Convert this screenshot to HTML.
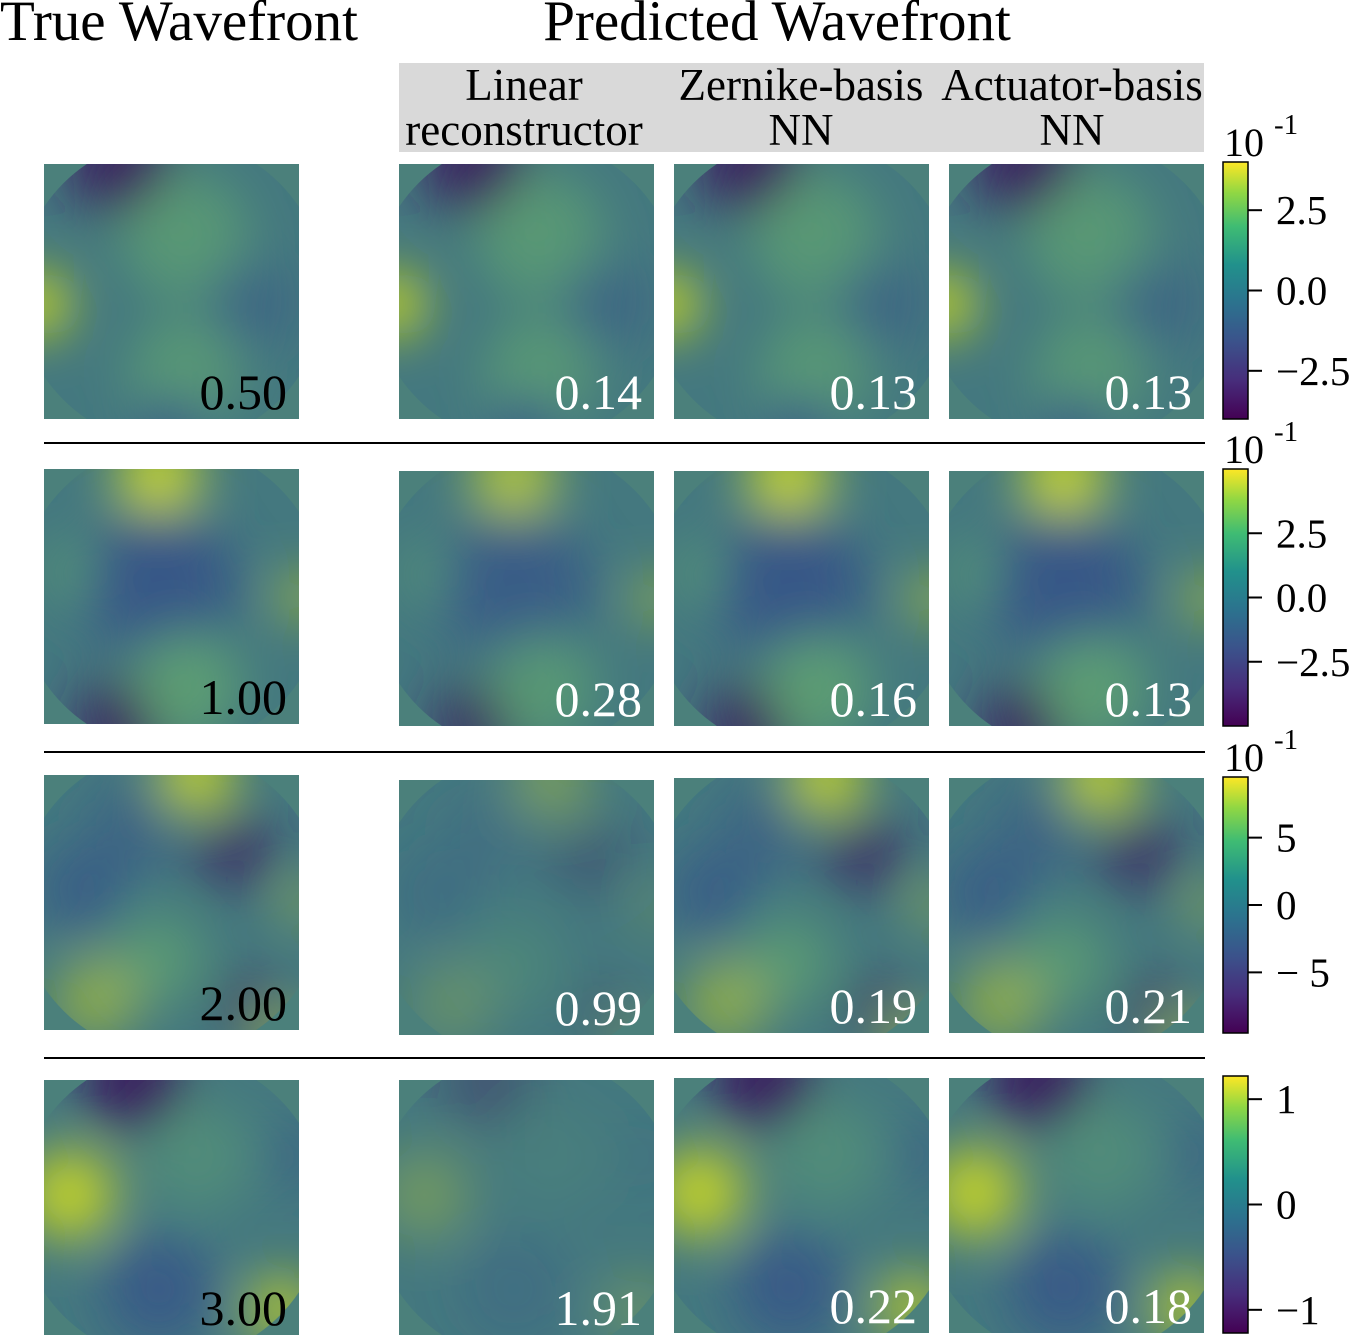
<!DOCTYPE html>
<html><head><meta charset="utf-8"><style>
body{margin:0;background:#fff;}
svg{display:block;font-family:"Liberation Serif",serif;}
</style></head><body>
<svg id="fig" width="1350" height="1335" viewBox="0 0 1350 1335" xmlns="http://www.w3.org/2000/svg">
<defs>
<linearGradient id="viridis" x1="0" y1="1" x2="0" y2="0">
<stop offset="0" stop-color="#440154"/><stop offset="0.15" stop-color="#472d7b"/><stop offset="0.3" stop-color="#3b528b"/><stop offset="0.45" stop-color="#2c728e"/><stop offset="0.6" stop-color="#21918c"/><stop offset="0.75" stop-color="#3fbc73"/><stop offset="0.88" stop-color="#90d743"/><stop offset="1" stop-color="#fde725"/>
</linearGradient>
<filter id="blur" x="-50%" y="-50%" width="200%" height="200%"><feGaussianBlur stdDeviation="26"/></filter>
</defs>
<text x="0" y="40" font-size="57">True Wavefront</text>
<text x="777" y="40" font-size="57" text-anchor="middle">Predicted Wavefront</text>
<rect x="399" y="63" width="805" height="89" fill="#d9d9d9"/>
<text font-size="45" text-anchor="middle"><tspan x="524" y="100">Linear</tspan><tspan x="524" y="145">reconstructor</tspan></text>
<text font-size="45" text-anchor="middle"><tspan x="801" y="100">Zernike-basis</tspan><tspan x="801" y="145">NN</tspan></text>
<text font-size="45" text-anchor="middle"><tspan x="1072" y="100">Actuator-basis</tspan><tspan x="1072" y="145">NN</tspan></text>
<g id="panels"></g>
<g id="cbars"></g>
</svg>
<script>
// data
const rowErrors = [
  ["0.50","0.14","0.13","0.13"],
  ["1.00","0.28","0.16","0.13"],
  ["2.00","0.99","0.19","0.21"],
  ["3.00","1.91","0.22","0.18"]
];
const cbTickValues = [[2.5,0,-2.5],[2.5,0,-2.5],[5,0,-5],[1,0,-1]];
const cbTickLabels = [["2.5","0.0","\u22122.5"],["2.5","0.0","\u22122.5"],["5","0","\u2212 5"],["1","0","\u22121"]];
const cbRanges = [[-4,4],[-5,5],[-9.5,9.5],[-1.22,1.22]];
const cbExponent = ["10 -1","10 -1","10 -1",""];
// blobs: [x, y, r, color, opacity] in panel fractions
const Y="#d8e219",G="#6cb86c",B="#34508a",P="#3a1c5e";
const blobsRow = [
 [[0.3,0.0,0.2,P,1],[-0.03,0.55,0.12,Y,1],[0.55,0.28,0.25,G,0.5],[0.8,0.55,0.18,B,0.45],[0.55,0.82,0.22,G,0.5],[0.5,1.02,0.12,B,0.9]],
 [[0.45,0.03,0.16,Y,0.9],[0.45,0.45,0.3,B,0.8],[1.02,0.5,0.08,Y,0.9],[0.3,1.0,0.17,P,1],[0.55,0.85,0.22,G,0.6],[0.1,0.4,0.12,G,0.4]],
 [[0.6,0.0,0.14,Y,0.9],[0.75,0.3,0.16,P,0.7],[0.15,0.45,0.18,B,0.6],[1.02,0.5,0.06,Y,0.95],[0.45,0.72,0.18,G,0.5],[0.2,0.88,0.16,Y,0.5],[0.8,0.9,0.13,P,0.6],[0.92,1.0,0.08,Y,0.7],[0.35,0.2,0.18,B,0.45]],
 [[0.35,0.0,0.2,P,1],[0.1,0.45,0.18,Y,0.85],[0.45,0.82,0.22,B,0.7],[0.93,0.9,0.13,Y,0.8],[0.97,0.3,0.12,B,0.5],[0.6,0.3,0.22,G,0.3]]
];
const colStrength = [[1,1,1,1],[1,0.85,1,1],[1,0.45,1,1],[1,0.35,1,1]];
const colX = [44,399,674,949];
const rowY = [[164,164,164,164],[469,471,471,471],[775,780,778,778],[1080,1080,1078,1078]];
const sepY = [443,752,1058];
const cbBox = [[162,419],[469,726],[777,1033],[1076,1333]];
const NS="http://www.w3.org/2000/svg";
const svg=document.getElementById('fig'), defs=svg.querySelector('defs');
const pg=document.getElementById('panels'), cg=document.getElementById('cbars');
function el(t,a,p){const e=document.createElementNS(NS,t);for(const k in a)e.setAttribute(k,a[k]);(p||pg).appendChild(e);return e;}
const S=255, colNames=["true","linear","zernike","actuator"];
rowErrors.forEach((row,r)=>{
  row.forEach((val,c)=>{
    const x=colX[c], y=rowY[r][c];
    const cp=el('clipPath',{id:'cp'+r+c},defs);
    el('circle',{cx:x+S/2,cy:y+S/2,r:S*0.6},cp);
    const cpr=el('clipPath',{id:'cq'+r+c},defs);
    el('rect',{x:x,y:y,width:S,height:S},cpr);
    const g=el('g',{});
    
    
    el('rect',{x:x,y:y,width:S,height:S,fill:'#4b807b'},g);
    const inner=el('g',{'clip-path':'url(#cp'+r+c+')'},g);
    const in2=el('g',{'clip-path':'url(#cq'+r+c+')'},inner);
    el('rect',{x:x,y:y,width:S,height:S,fill:'#44787f'},in2);
    const bg=el('g',{filter:'url(#blur)'},in2);
    blobsRow[r].forEach(b=>{
      const e=el('circle',{cx:x+b[0]*S,cy:y+b[1]*S,r:b[2]*S,fill:b[3],opacity:b[4]*colStrength[r][c]},bg);
      
      
    });
    const t=el('text',{x:x+S-12,y:y+S-10,'font-size':50,'text-anchor':'end',fill:c===0?'#000':'#fff'},g);
    
    
    t.textContent=val;
  });
});
sepY.forEach(yy=>{
  const l=el('line',{x1:44,x2:1205,y1:yy,y2:yy,stroke:'#000','stroke-width':2});
  
  
});
cbBox.forEach((bx,r)=>{
  const [t,b]=bx, g=el('g',{},cg);
  
  
  el('rect',{x:1223,y:t,width:25,height:b-t,fill:'url(#viridis)',stroke:'#000','stroke-width':1.5},g);
  const [lo,hi]=cbRanges[r];
  const ys=v=>b-(v-lo)/(hi-lo)*(b-t);
  cbTickValues[r].forEach((v,i)=>{
    const yy=ys(v);
    el('line',{x1:1248,x2:1262,y1:yy,y2:yy,stroke:'#000','stroke-width':2},g);
    const tx=el('text',{x:1276,y:yy+14,'font-size':41},g);
    
    
    tx.textContent=cbTickLabels[r][i];
  });
  if(cbExponent[r]){
    const tx=el('text',{x:1224,y:t-6,'font-size':40},g);
    
    
    tx.innerHTML='10<tspan dx="10" dy="-22" font-size="29">-1</tspan>';
  }
});
</script>
</body></html>
